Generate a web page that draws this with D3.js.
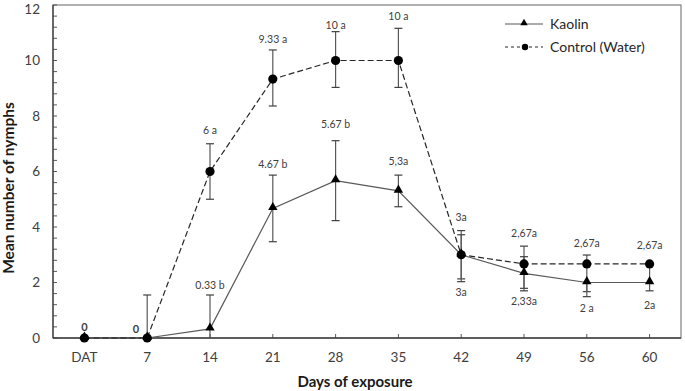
<!DOCTYPE html>
<html>
<head>
<meta charset="utf-8">
<script src="https://cdn.jsdelivr.net/npm/d3@7"></script>
<style>
  body { margin: 0; background: #fff; }
  svg text { font-family: Lato, "Open Sans", sans-serif; }
</style>
</head>
<body>
<svg id="chart" width="685" height="391"></svg>
<script>
// data
const days = ["DAT", "7", "14", "21", "28", "35", "42", "49", "56", "60"];
const kaolin = [0, 0, 0.33, 4.67, 5.67, 5.3, 3, 2.33, 2, 2];
const control = [0, 0, 6, 9.33, 10, 10, 3, 2.67, 2.67, 2.67];
const kaolinErrUp = [0, 0, 1.22, 1.2, 1.44, 0.57, 0.72, 0.6, 0, 0.67];
const kaolinErrDown = [0, 0, 0.33, 1.2, 1.44, 0.57, 0.97, 0.63, 0.51, 0.3];
const controlErrUp = [0, 1.55, 1.0, 1.05, 1.04, 1.16, 0.87, 0.64, 0.32, 0];
const controlErrDown = [0, 0, 1.0, 0.97, 0.97, 0.97, 0.87, 0.88, 1.0, 0];
const controlLabels = ["0", "0", "6 a", "9.33 a", "10 a", "10 a", "3a", "2,67a", "2,67a", "2,67a"];
const kaolinLabels = ["", "", "0.33 b", "4.67 b", "5.67 b", "5,3a", "3a", "2,33a", "2 a", "2a"];
const yTicks = [0, 2, 4, 6, 8, 10, 12];

// label nudges (px), relative to the end of the error bar
const controlLabelDy = [-7, 0, -10, -7, -3, -8, -10, -9, -8, -15];
const kaolinLabelDy = [0, 0, -6, -7, -13, -10, 14, 14, 15, 18];
const kaolinBelow = [false, false, false, false, false, false, true, true, true, true];

const svg = d3.select("#chart");
const margin = {top: 5, right: 4, bottom: 53, left: 53};
const width = 685 - margin.left - margin.right;
const height = 391 - margin.top - margin.bottom;

const x = d3.scalePoint().domain(days).range([0, width]).padding(0.5);
const y = d3.scaleLinear().domain([0, 12]).range([height, 0]);

const g = svg.append("g").attr("transform", `translate(${margin.left},${margin.top})`);

// frame
g.append("rect")
  .attr("x", 0).attr("y", 0)
  .attr("width", width).attr("height", height)
  .attr("fill", "none")
  .attr("stroke", "#7f7f7f")
  .attr("stroke-width", 1.2);

// y axis: inner minor ticks every 0.4
const yMinor = d3.range(0, 12.01, 0.4);
g.selectAll(".yminor")
  .data(yMinor)
  .join("line")
  .attr("x1", 0).attr("x2", 4)
  .attr("y1", d => y(d)).attr("y2", d => y(d))
  .attr("stroke", "#595959");

g.selectAll(".ylab")
  .data(yTicks)
  .join("text")
  .attr("x", -13)
  .attr("y", d => Math.max(y(d), 4))
  .attr("dy", "0.35em")
  .attr("text-anchor", "end")
  .attr("font-size", 13.5)
  .attr("fill", "#404040")
  .text(d => d);

// x axis ticks pointing up
g.selectAll(".xtick")
  .data(days)
  .join("line")
  .attr("x1", d => x(d)).attr("x2", d => x(d))
  .attr("y1", height).attr("y2", height - 4)
  .attr("stroke", "#595959");

g.selectAll(".xlab")
  .data(days)
  .join("text")
  .attr("x", d => x(d))
  .attr("y", height + 24)
  .attr("text-anchor", "middle")
  .attr("font-size", 13.5)
  .attr("fill", "#404040")
  .text(d => d);

// axis lines
g.append("line").attr("x1", 0).attr("x2", width).attr("y1", height).attr("y2", height)
  .attr("stroke", "#404040").attr("stroke-width", 1.3);
g.append("line").attr("x1", 0).attr("x2", 0).attr("y1", 0).attr("y2", height)
  .attr("stroke", "#404040").attr("stroke-width", 1.3);

// titles
svg.append("text")
  .attr("x", 355).attr("y", 387)
  .attr("text-anchor", "middle")
  .attr("font-size", 15)
  .attr("font-weight", "bold")
  .attr("fill", "#1a1a1a")
  .text("Days of exposure");

svg.append("text")
  .attr("transform", "translate(14,188) rotate(-90)")
  .attr("text-anchor", "middle")
  .attr("font-size", 15.5)
  .attr("font-weight", "bold")
  .attr("fill", "#1a1a1a")
  .text("Mean number of nymphs");

// error bars
function errorBars(vals, up, down, cls) {
  const rows = days.map((d, i) => ({d: d, v: vals[i], up: up[i], down: down[i]}))
    .filter(r => r.up > 0 || r.down > 0);
  const eg = g.append("g").attr("class", cls);
  eg.selectAll("line.v")
    .data(rows)
    .join("line")
    .attr("x1", r => x(r.d)).attr("x2", r => x(r.d))
    .attr("y1", r => y(r.v + r.up)).attr("y2", r => y(r.v - r.down))
    .attr("stroke", "#595959").attr("stroke-width", 1.2);
  eg.selectAll("line.top")
    .data(rows.filter(r => r.up > 0))
    .join("line")
    .attr("x1", r => x(r.d) - 4).attr("x2", r => x(r.d) + 4)
    .attr("y1", r => y(r.v + r.up)).attr("y2", r => y(r.v + r.up))
    .attr("stroke", "#404040").attr("stroke-width", 1.2);
  eg.selectAll("line.bot")
    .data(rows.filter(r => r.down > 0 && r.v - r.down > 0))
    .join("line")
    .attr("x1", r => x(r.d) - 4).attr("x2", r => x(r.d) + 4)
    .attr("y1", r => y(r.v - r.down)).attr("y2", r => y(r.v - r.down))
    .attr("stroke", "#404040").attr("stroke-width", 1.2);
}
errorBars(control, controlErrUp, controlErrDown, "err-control");
errorBars(kaolin, kaolinErrUp, kaolinErrDown, "err-kaolin");

// lines
const line = d3.line().x((d, i) => x(days[i])).y(d => y(d));

g.append("path")
  .datum(kaolin)
  .attr("d", line)
  .attr("fill", "none")
  .attr("stroke", "#595959")
  .attr("stroke-width", 1.2);

g.append("path")
  .datum(control)
  .attr("d", line)
  .attr("fill", "none")
  .attr("stroke", "#262626")
  .attr("stroke-width", 1.2)
  .attr("stroke-dasharray", "6,3");

// markers
const tri = d3.symbol().type(d3.symbolTriangle).size(38);
g.selectAll(".kpt")
  .data(kaolin)
  .join("path")
  .attr("d", tri)
  .attr("transform", (d, i) => `translate(${x(days[i])},${y(d) - 1})`)
  .attr("fill", "#000");

g.selectAll(".cpt")
  .data(control)
  .join("circle")
  .attr("cx", (d, i) => x(days[i]))
  .attr("cy", d => y(d))
  .attr("r", 4.6)
  .attr("fill", "#000");

// value labels
g.selectAll(".clab")
  .data(controlLabels)
  .join("text")
  .attr("x", (d, i) => i === 1 ? x(days[i]) - 8 : x(days[i]))
  .attr("y", (d, i) => i === 1 ? y(control[i]) - 5 : y(control[i] + controlErrUp[i]) + controlLabelDy[i])
  .attr("text-anchor", (d, i) => i === 1 ? "end" : "middle")
  .attr("font-size", (d, i) => i < 2 ? 11 : 10.5)
  .attr("font-weight", (d, i) => i < 2 ? "bold" : "normal")
  .attr("fill", "#404040")
  .text(d => d);

g.selectAll(".klab")
  .data(kaolinLabels)
  .join("text")
  .attr("x", (d, i) => x(days[i]))
  .attr("y", (d, i) => kaolinBelow[i]
    ? y(kaolin[i] - kaolinErrDown[i]) + kaolinLabelDy[i]
    : y(kaolin[i] + kaolinErrUp[i]) + kaolinLabelDy[i])
  .attr("text-anchor", "middle")
  .attr("font-size", 10.5)
  .attr("fill", "#404040")
  .text(d => d);

// legend
const legend = svg.append("g").attr("transform", "translate(505,0)");
const legendItems = [
  {name: "Kaolin", dash: null, color: "#595959", sym: "tri"},
  {name: "Control (Water)", dash: "3,3", color: "#262626", sym: "circle"}
];
const li = legend.selectAll(".li")
  .data(legendItems)
  .join("g")
  .attr("transform", (d, i) => `translate(0,${24 + i * 23})`);
li.append("line")
  .attr("x1", 0).attr("x2", 38)
  .attr("stroke", d => d.color)
  .attr("stroke-width", 1.2)
  .attr("stroke-dasharray", d => d.dash);
li.filter(d => d.sym === "tri").append("path")
  .attr("d", d3.symbol().type(d3.symbolTriangle).size(24))
  .attr("transform", "translate(19,-1)");
li.filter(d => d.sym === "circle").append("circle")
  .attr("cx", 20).attr("r", 3.2);
li.append("text")
  .attr("x", 45)
  .attr("dy", "0.35em")
  .attr("font-size", 14)
  .attr("fill", "#262626")
  .text(d => d.name);
</script>
</body>
</html>
